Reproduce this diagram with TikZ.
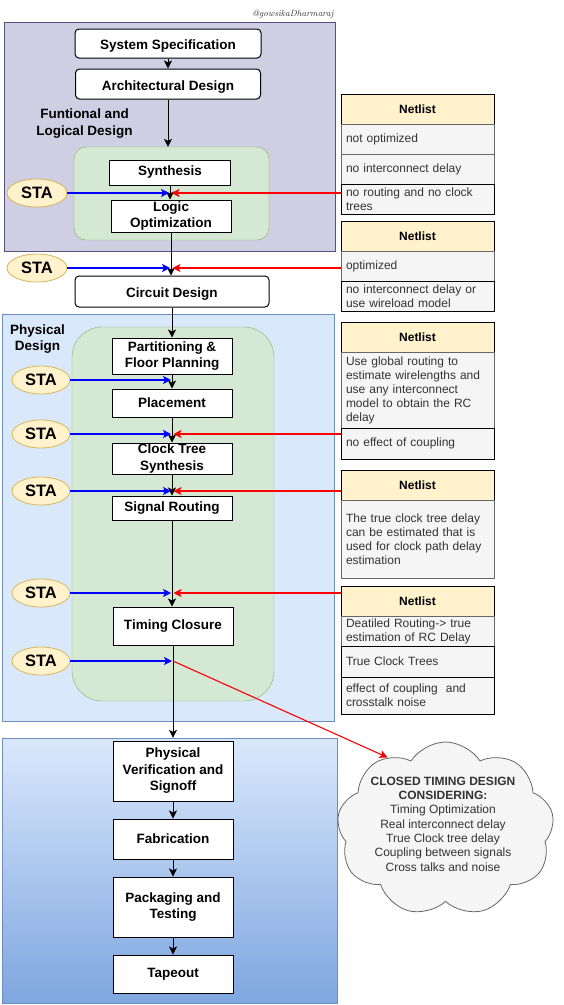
\documentclass[tikz,border=0pt]{standalone}
\usepackage{fontspec}
\newfontfamily\arialfont{Liberation Sans}
\usetikzlibrary{arrows.meta,shapes.geometric,shapes.symbols,positioning}

\definecolor{purplefill}{HTML}{D0CEE2}
\definecolor{purpleline}{HTML}{56517E}
\definecolor{bluefill}{HTML}{DAE8FC}
\definecolor{bluedark}{HTML}{7EA6E0}
\definecolor{blueline}{HTML}{6C8EBF}
\definecolor{greenfill}{HTML}{D5E8D4}
\definecolor{greenline}{HTML}{82B366}
\definecolor{yellowfill}{HTML}{FFF2CC}
\definecolor{yellowline}{HTML}{D6B656}
\definecolor{greyfill}{HTML}{F5F5F5}
\definecolor{greyline}{HTML}{666666}
\definecolor{greytext}{HTML}{333333}

\tikzset{
  stepbox/.style={draw, fill=white, line width=1pt, align=center, inner sep=0pt,
    font=\arialfont\bfseries\fontsize{13.5}{16.5}\selectfont},
  roundbox/.style={stepbox, rounded corners=4pt, text height=15pt},
  sta/.style={ellipse, draw=yellowline, fill=yellowfill, line width=0.8pt, inner sep=0pt,
    minimum width=60pt, minimum height=28pt, font=\arialfont\bfseries\fontsize{16.5}{19}\selectfont},
  nethead/.style={draw, fill=yellowfill, line width=0.8pt, minimum width=153pt, minimum height=30pt,
    inner sep=0pt, font=\arialfont\bfseries\fontsize{12}{14}\selectfont},
  netrow/.style={draw=greyline, fill=greyfill, text=greytext, line width=0.8pt, text width=143pt,
    inner xsep=5pt, inner ysep=0pt, align=left, font=\arialfont\fontsize{12}{14}\selectfont},
  netrowdark/.style={netrow, draw=black},
  grouplabel/.style={align=center, font=\arialfont\bfseries\fontsize{13.5}{16.5}\selectfont},
  flow/.style={->, line width=1pt},
  staline/.style={->, blue, line width=1.1pt},
  netline/.style={->, red, line width=1.1pt},
}

\begin{document}
\begin{tikzpicture}[x=1pt, y=-1pt, >={Stealth[length=8pt,width=8pt,inset=2pt]}]
  \useasboundingbox (0,0) rectangle (564,1005);

  % Regions
  \node[draw=purpleline, fill=purplefill, minimum width=331pt, minimum height=229pt, inner sep=0pt] (frontend) at (169.5,136.5) {};
  \node[draw=blueline, fill=bluefill, minimum width=332pt, minimum height=407pt, inner sep=0pt] (physreg) at (168,517.5) {};
  \node[draw=blueline, top color=bluefill, bottom color=bluedark, minimum width=335pt, minimum height=265pt, inner sep=0pt] (backend) at (169.5,870.5) {};
  \node[draw=greenline, fill=greenfill, rounded corners=12pt, minimum width=195pt, minimum height=93pt, inner sep=0pt] (logicgrp) at (171.5,193.5) {};
  \node[draw=greenline, fill=greenfill, rounded corners=30pt, minimum width=202pt, minimum height=374pt, inner sep=0pt] (physgrp) at (173,514) {};

  \node[anchor=east, text=greytext, font=\itshape\fontsize{9}{11}\selectfont] (credit) at (337,14) {@gowsikaDharmaraj};
  \node[grouplabel] (funclabel) at (84.5,123.5) {Funtional and\\Logical Design};
  \node[grouplabel] (physlabel) at (37.5,339) {Physical\\Design};

  % Design steps
  \node[roundbox, minimum width=186pt, minimum height=29pt] (sysspec) at (168,43.5) {System Specification};
  \node[roundbox, minimum width=185pt, minimum height=30pt] (archdes) at (168,84) {Architectural Design};
  \node[stepbox, minimum width=121pt, minimum height=25pt] (synth) at (170,172.5) {Synthesis};
  \node[stepbox, minimum width=120pt, minimum height=32pt] (logicopt) at (171,216) {Logic\\Optimization};
  \node[roundbox, minimum width=194pt, minimum height=31pt] (circdes) at (172,291.5) {Circuit Design};
  \node[stepbox, minimum width=120pt, minimum height=36pt] (partfp) at (172,356) {Partitioning \&\\Floor Planning};
  \node[stepbox, minimum width=120pt, minimum height=28pt] (place) at (172,403) {Placement};
  \node[stepbox, minimum width=120pt, minimum height=31pt] (cts) at (172,458.5) {Clock Tree\\Synthesis};
  \node[stepbox, minimum width=120pt, minimum height=24pt] (sigroute) at (172,508) {Signal Routing};
  \node[stepbox, minimum width=120pt, minimum height=38pt] (timclose) at (173,626) {Timing Closure};
  \node[stepbox, minimum width=120pt, minimum height=60pt] (physver) at (173,771) {Physical\\Verification and\\Signoff};
  \node[stepbox, minimum width=120pt, minimum height=40pt] (fab) at (173,839) {Fabrication};
  \node[stepbox, minimum width=120pt, minimum height=60pt] (pack) at (173,907) {Packaging and\\Testing};
  \node[stepbox, minimum width=120pt, minimum height=38pt] (tapeout) at (173,974) {Tapeout};

  % STA checks
  \node[sta] (sta1) at (37,193) {STA};
  \node[sta] (sta2) at (37,268) {STA};
  \node[sta, minimum width=58pt] (sta3) at (41,380) {STA};
  \node[sta, minimum width=58pt] (sta4) at (41,434) {STA};
  \node[sta, minimum width=58pt] (sta5) at (41,491) {STA};
  \node[sta, minimum width=58pt] (sta6) at (41,593) {STA};
  \node[sta, minimum width=58pt] (sta7) at (41,661) {STA};

  % Netlist tables
  \node[nethead] (net1h) at (417.5,109) {Netlist};
  \node[netrow, minimum height=30pt] (net1a) at (417.5,139) {not optimized};
  \node[netrow, minimum height=30pt] (net1b) at (417.5,169) {no interconnect delay};
  \node[netrowdark, minimum height=30pt] (net1c) at (417.5,199) {no routing and no clock\\trees};

  \node[nethead] (net2h) at (417.5,236.5) {Netlist};
  \node[netrow, minimum height=30pt] (net2a) at (417.5,266.5) {optimized};
  \node[netrowdark, minimum height=30pt] (net2b) at (417.5,296.5) {no interconnect delay or\\use wireload model};

  \node[nethead] (net3h) at (417.5,337) {Netlist};
  \node[netrow, minimum height=76pt] (net3a) at (417.5,390) {Use global routing to\\estimate wirelengths and\\use any interconnect\\model to obtain the RC\\delay};
  \node[netrowdark, minimum height=31pt] (net3b) at (417.5,443.5) {no effect of coupling};

  \node[nethead] (net4h) at (417.5,485) {Netlist};
  \node[netrow, minimum height=78pt] (net4a) at (417.5,539) {The true clock tree delay\\can be estimated that is\\used for clock path delay\\estimation};

  \node[nethead] (net5h) at (417.5,601) {Netlist};
  \node[netrow, minimum height=30pt] (net5a) at (417.5,631) {Deatiled Routing-> true\\estimation of RC Delay};
  \node[netrowdark, minimum height=31pt] (net5b) at (417.5,661.5) {True Clock Trees};
  \node[netrowdark, minimum height=37pt] (net5c) at (417.5,695.5) {effect of coupling\ \ and\\crosstalk noise};

  % Closure cloud
  \node[cloud, cloud puffs=9, cloud puff arc=115, cloud ignores aspect, draw=greyline, fill=greyfill,
    line width=0.8pt, minimum width=217pt, minimum height=174pt, inner sep=0pt] (closure) at (445.5,829) {};
  \node[align=center, text=greytext, font=\arialfont\fontsize{12}{14.3}\selectfont] (closuretext) at (443,824)
    {\textbf{CLOSED TIMING DESIGN}\\\textbf{CONSIDERING:}\\Timing Optimization\\Real interconnect delay\\True Clock tree delay\\Coupling between signals\\Cross talks and noise};

  % Flow
  \draw[flow] (sysspec) -- (archdes);
  \draw[flow] (archdes.south) -- (archdes.south |- logicgrp.north);
  \draw[flow] (synth.south) -- (synth.south |- logicopt.north);
  \draw[flow] (logicopt.south) -- (logicopt.south |- circdes.north);
  \draw[flow] (partfp.north |- circdes.south) -- (partfp.north);
  \draw[flow] (partfp) -- (place);
  \draw[flow] (place) -- (cts);
  \draw[flow] (cts) -- (sigroute);
  \draw[flow] (sigroute.south) -- (sigroute.south |- timclose.north);
  \draw[flow] (timclose.south) -- (timclose.south |- backend.north);
  \draw[flow] (physver) -- (fab);
  \draw[flow] (fab) -- (pack);
  \draw[flow] (pack) -- (tapeout);

  % Junctions
  \coordinate (j1) at (synth.south |- sta1);
  \coordinate (j2) at (logicopt.south |- sta2);
  \coordinate (j3) at (partfp.south |- sta3);
  \coordinate (j4) at (place.south |- sta4);
  \coordinate (j5) at (cts.south |- sta5);
  \coordinate (j6) at (sigroute.south |- sta6);
  \coordinate (j7) at (timclose.south |- sta7);

  % STA arrows
  \foreach \i in {1,...,7}
    \draw[staline] (sta\i.east) -- ([xshift=-1pt]j\i);

  % Netlist arrows
  \draw[netline] (net1c.west |- j1) -- ([xshift=1.5pt]j1);
  \draw[netline] (net2a.west |- j2) -- ([xshift=1.5pt]j2);
  \draw[netline] (net3b.west |- j4) -- ([xshift=1.5pt]j4);
  \draw[netline] (net4h.west |- j5) -- ([xshift=1.5pt]j5);
  \draw[netline] (net5h.west |- j6) -- ([xshift=1.5pt]j6);
  \draw[netline] (j7) -- (closure.129);
\end{tikzpicture}
\end{document}
